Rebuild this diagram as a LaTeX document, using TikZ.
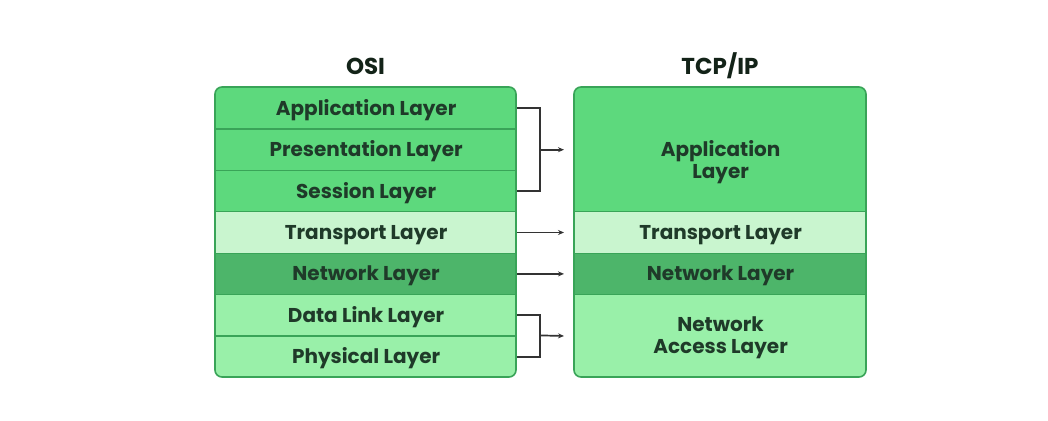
\documentclass[tikz,border=0pt]{standalone}
\usepackage{fontspec}
\setmainfont{Poppins}
\usetikzlibrary{arrows.meta,calc}
\definecolor{gA}{HTML}{5DD97D}
\definecolor{gT}{HTML}{C9F5CF}
\definecolor{gN}{HTML}{4DB56A}
\definecolor{gD}{HTML}{99F0A9}
\definecolor{bd}{HTML}{39A458}
\definecolor{tx}{HTML}{1F3A29}
\definecolor{ln}{HTML}{333333}
\begin{document}
\begin{tikzpicture}[x=1pt,y=-1pt,
  row/.style={draw=bd,line width=1.2pt,minimum height=41.4pt,inner sep=0pt,text height=15pt,text depth=1pt,text=tx,font=\fontsize{20}{22}\selectfont\bfseries,align=center,anchor=north west},
  L/.style={row,minimum width=301pt},
  R/.style={row,minimum width=292pt},
  frame/.style={draw=bd,line width=1.6pt,rounded corners=7pt},
  conn/.style={draw=ln,line width=1.7pt},
  arr/.style={conn,-{Stealth[length=6pt,width=5pt]}},
  title/.style={text=tx!60!black,font=\fontsize{23}{26}\selectfont\bfseries}]
\useasboundingbox[fill=white] (0,0) rectangle (1048,420);
\node[title] (osi) at (365.5,66) {OSI};
\node[title] (tcp) at (720,66) {TCP/IP};
\begin{scope}
\clip[rounded corners=7pt] (215,87) rectangle (516,377);
\node[L,fill=gA] (a1) at (215,87) {Application Layer};
\node[L,fill=gA] (a2) at (215,128.4) {Presentation Layer};
\node[L,fill=gA] (a3) at (215,169.8) {Session Layer};
\node[L,fill=gT] (a4) at (215,211.2) {Transport Layer};
\node[L,fill=gN] (a5) at (215,252.6) {Network Layer};
\node[L,fill=gD] (a6) at (215,294) {Data Link Layer};
\node[L,fill=gD] (a7) at (215,335.4) {Physical Layer};
\end{scope}
\draw[frame] (215,87) rectangle (516,377);
\begin{scope}
\clip[rounded corners=7pt] (574,87) rectangle (866,377);
\node[R,fill=gA,minimum height=124.2pt,text height=59pt] (b1) at (574,87) {Application\\Layer};
\node[R,fill=gT] (b2) at (574,211.2) {Transport Layer};
\node[R,fill=gN] (b3) at (574,252.6) {Network Layer};
\node[R,fill=gD,minimum height=82.8pt,text height=35pt] (b4) at (574,294) {Network\\Access Layer};
\end{scope}
\draw[frame] (574,87) rectangle (866,377);
\coordinate (j1) at (540,0);
\draw[conn] (a1.east) -| (j1 |- a2.east) |- (a3.east);
\draw[arr] (j1 |- a2.east) -- ($(b1.west)+(-10,0)$);
\draw[arr] (a4.east) -- ($(b2.west)+(-10,0)$);
\draw[arr] (a5.east) -- ($(b3.west)+(-10,0)$);
\coordinate (j2) at (540,335.4);
\draw[conn] (a6.east) -| (j2) |- (a7.east);
\draw[arr] (j2) -- ($(b4.west)+(-10,0)$);
\end{tikzpicture}
\end{document}
